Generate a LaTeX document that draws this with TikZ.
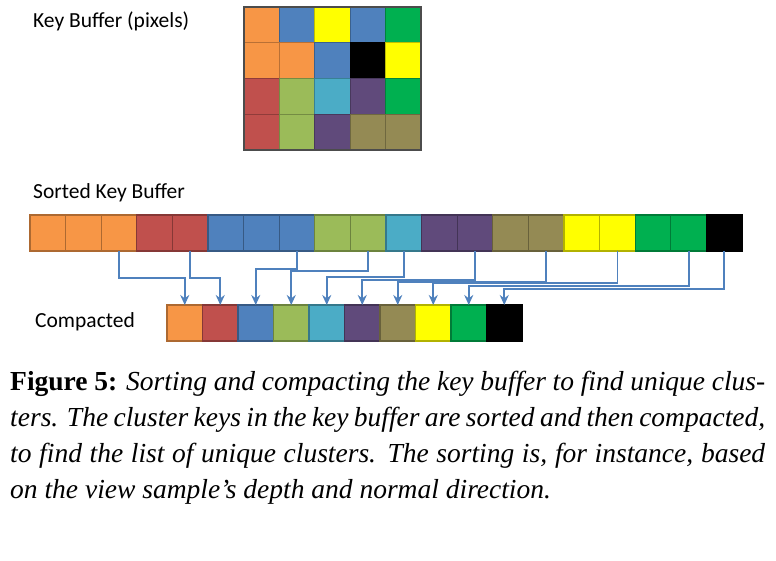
\documentclass[tikz,border=0pt]{standalone}
\usepackage{fontspec}
\usetikzlibrary{arrows.meta}
\setmainfont{Liberation Serif}
\newfontfamily\lab{Carlito}
\definecolor{cO}{HTML}{F79646}
\definecolor{cR}{HTML}{C0504D}
\definecolor{cB}{HTML}{4F81BD}
\definecolor{cL}{HTML}{9BBB59}
\definecolor{cT}{HTML}{4BACC6}
\definecolor{cP}{HTML}{604A7B}
\definecolor{cV}{HTML}{948A54}
\definecolor{cY}{HTML}{FFFF00}
\definecolor{cG}{HTML}{00B050}
\definecolor{cK}{HTML}{000000}
\begin{document}
\begin{tikzpicture}[x=1pt,y=-1pt,
  lbl/.style={anchor=west,inner sep=0,font=\lab\fontsize{21.5}{26}\selectfont},
  arr/.style={draw=cB,line width=1.8pt,-{Stealth[length=10pt,width=9pt]}}]
\useasboundingbox (0,0) rectangle (776,561);
% grid
\def\cw{35.4}
\foreach \row [count=\r from 0] in {{cO,cB,cY,cB,cG},{cO,cO,cB,cK,cY},{cR,cL,cT,cP,cG},{cR,cL,cP,cV,cV}}{
  \foreach \c [count=\i from 0] in \row {
    \fill[\c] (244+\i*\cw,7+\r*35.8) rectangle ++(\cw,35.8);
    \draw[\c!75!black,line width=1pt] (244+\i*\cw,7+\r*35.8) rectangle ++(\cw,35.8);
  }}
\draw[black!70,line width=2.5pt] (244,7) rectangle (421,150);
\node[lbl] (t1) at (33,21) {Key Buffer (pixels)};
\node[lbl] (t2) at (33,193) {Sorted Key Buffer};
\node[lbl] (t3) at (35,322) {Compacted};
% sorted
\foreach \c [count=\i from 0] in {cO,cO,cO,cR,cR,cB,cB,cB,cL,cL,cT,cP,cP,cV,cV,cY,cY,cG,cG,cK}{
  \fill[\c] (30+\i*35.6,215) rectangle ++(35.6,36);
  \draw[\c!70!black,line width=1.2pt] (30+\i*35.6,215) rectangle ++(35.6,36);
  \coordinate (s\i) at (30+\i*35.6+17.8,251);
}
% compacted
\foreach \c [count=\i from 0] in {cO,cR,cB,cL,cT,cP,cV,cY,cG,cK}{
  \fill[\c] (167+\i*35.5,305) rectangle ++(35.5,36);
  \draw[\c!70!black,line width=1.2pt] (167+\i*35.5,305) rectangle ++(35.5,36);
  \coordinate (d\i) at (167+\i*35.5+17.75,305);
}
\foreach \s/\d/\y in {2/0/278,4/1/278,7/2/269,9/3/271,10/4/277,12/5/280,14/6/282,16/7/283,18/8/286,19/9/289}{
  \draw[arr] (s\s) -- ++(0,\y-251) -| (d\d);
}
\node[anchor=north west,inner sep=0,text width=755pt,align=justify,
  font=\fontsize{27.5}{36}\selectfont] (cap) at (10,371)
{\textbf{Figure 5:} \textit{Sorting and compacting the key buffer to find unique clusters. The cluster keys in the key buffer are sorted and then compacted, to find the list of unique clusters. The sorting is, for instance, based on the view sample's depth and normal direction.}};
\end{tikzpicture}
\end{document}
